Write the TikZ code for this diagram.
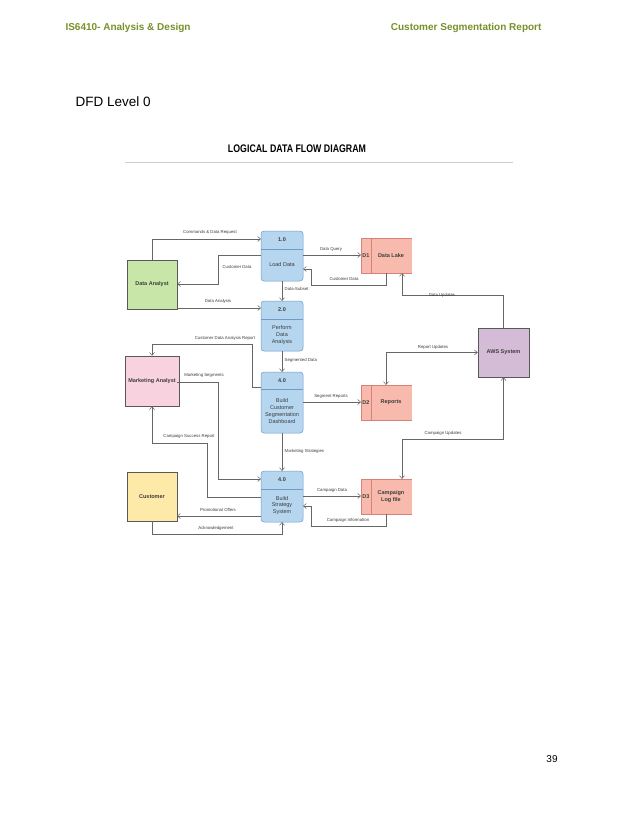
\documentclass[tikz,border=0pt]{standalone}
\usepackage{fontspec}
\setmainfont{Liberation Sans}
\usetikzlibrary{arrows.meta}
\definecolor{hdr}{RGB}{120,145,40}
\definecolor{pfill}{RGB}{182,214,240}
\definecolor{pline}{RGB}{110,155,200}
\definecolor{dfill}{RGB}{248,186,172}
\definecolor{dline}{RGB}{215,130,120}
\definecolor{ltxt}{RGB}{60,60,60}
\begin{document}
\begin{tikzpicture}[x=1pt,y=-1pt,
  lbl/.style={font=\fontsize{4.3}{5}\selectfont, text=ltxt, inner sep=0.5pt},
  flow/.style={draw=gray!80!black, line width=0.5pt, -{Straight Barb[length=3pt,width=5pt]}},
  bflow/.style={draw=gray!80!black, line width=0.5pt, {Straight Barb[length=3pt,width=5pt]}-{Straight Barb[length=3pt,width=5pt]}},
  ent/.style={draw=gray!70!black, line width=0.5pt, font=\fontsize{5.5}{6.5}\selectfont\bfseries, text=ltxt},
  ptext/.style={font=\fontsize{5.5}{6.8}\selectfont, text=ltxt, align=center}]
\useasboundingbox (0,0) rectangle (638,826);
\fill[white] (0,0) rectangle (638,826);
% header
\node[anchor=west, text=hdr, font=\fontsize{10}{12}\selectfont\bfseries] (h1) at (62,28) {IS6410- Analysis \& Design};
\node[anchor=east, text=hdr, font=\fontsize{10}{12}\selectfont\bfseries] (h2) at (545,28) {Customer Segmentation Report};
\node[anchor=west, font=\fontsize{13.5}{16}\selectfont] (dfd) at (72,102) {DFD Level 0};
\node[font=\fontsize{11}{13}\selectfont\bfseries, xscale=0.8] (title) at (297,149) {LOGICAL DATA FLOW DIAGRAM};
\draw[gray!40, line width=0.5pt] (125,162) -- (513,162);
\node[font=\fontsize{10}{12}\selectfont] (pg) at (552,759) {39};

% entities
\node[ent, fill={rgb,255:red,200;green,230;blue,168}, minimum width=50pt, minimum height=49pt] (da) at (152,284.5) {Data Analyst};
\node[ent, fill={rgb,255:red,249;green,210;blue,224}, minimum width=50pt, minimum height=50pt] (ma) at (152,381) {Marketing Analyst};
\node[ent, fill={rgb,255:red,253;green,234;blue,168}, minimum width=50pt, minimum height=49pt] (cu) at (152,496.5) {Customer};
\node[ent, fill={rgb,255:red,212;green,188;blue,214}, minimum width=51pt, minimum height=49pt] (aws) at (503.5,352.5) {AWS System};

% processes
\newcommand{\proc}[6]{% name, top, bottom, divider, number, text
  \draw[draw=pline, fill=pfill, rounded corners=3pt, line width=0.5pt] (261,#2) rectangle (303,#3);
  \draw[pline, line width=0.5pt] (261,#4) -- (303,#4);
  \node[ptext, font=\fontsize{5.5}{6.5}\selectfont\bfseries] at (282,{(#2+#4)/2}) {#5};
  \node[ptext] at (282,{(#4+#3)/2}) {#6};
  \coordinate (#1) at (282,{(#2+#3)/2});
}
\proc{p1}{231}{281}{249}{1.0}{Load Data}
\proc{p2}{301}{351}{319}{2.0}{Perform\\Data\\Analysis}
\proc{p3}{372}{433}{389}{4.0}{Build\\Customer\\Segmentation\\Dashboard}
\proc{p4}{471}{522}{489}{4.0}{Build\\Strategy\\System}

% data stores
\newcommand{\dstore}[5]{% name, top, bottom, id, text
  \draw[draw=dline, fill=dfill, line width=0.5pt] (412,#2) -- (361,#2) -- (361,#3) -- (412,#3);
  \draw[dline, line width=0.5pt] (371,#2) -- (371,#3);
  \node[ptext, font=\fontsize{5.5}{6.5}\selectfont\bfseries] at (366,{(#2+#3)/2}) {#4};
  \node[ptext, font=\fontsize{5.5}{6.5}\selectfont\bfseries] at (391,{(#2+#3)/2}) {#5};
  \coordinate (#1) at (386,{(#2+#3)/2});
}
\dstore{d1}{238}{273}{D1}{Data Lake}
\dstore{d2}{385}{420}{D2}{Reports}
\dstore{d3}{479}{514}{D3}{Campaign\\Log file}

% flows
\draw[flow] (da.north) |- (261,239);
\node[lbl] at (210,232) {Commands \& Data Request};
\draw[flow] (261,255) -| (218,284) -- (da.east |- 0,284);
\node[lbl] at (237,267) {Customer Data};
\draw[flow] (303,255) -- (361,255);
\node[lbl] at (331,249) {Data Query};
\draw[flow] (386,273) |- (311,285) |- (303,269);
\node[lbl] at (344,279) {Customer Data};
\draw[flow] (282,281) -- (282,301);
\node[lbl, anchor=west] at (284,289) {Data-Subset};
\draw[flow] (177,308) -- (261,308);
\node[lbl] at (218,301) {Data Analysis};
\draw[flow] (aws.north) |- (402,295) -- (402,273);
\node[lbl] at (442,295) {Data Updates};
\draw[flow] (261,387) -| (252,344) -| (ma.north);
\node[lbl] at (225,338) {Customer Data Analysis Report};
\draw[flow] (282,351) -- (282,372);
\node[lbl, anchor=west] at (284,360) {Segmented Data};
\draw[bflow] (aws.west) -| (386,385);
\node[lbl] at (433,347) {Report Updates};
\draw[flow] (177,382) -| (218,479) -- (261,479);
\node[lbl] at (204,375) {Marketing Segments};
\draw[flow] (303,402) -- (361,402);
\node[lbl] at (331,396) {Segment Reports};
\draw[flow] (261,497) -| (207,443) -| (ma.south);
\node[lbl] at (189,436) {Campaign Success Report};
\draw[bflow] (aws.south) |- (402,439) -- (402,479);
\node[lbl] at (443,433) {Campaign Updates};
\draw[flow] (282,433) -- (282,471);
\node[lbl, anchor=west] at (284,451) {Marketing Strategies};
\draw[flow] (303,496) -- (361,496);
\node[lbl] at (332,490) {Campaign Data};
\draw[flow] (386,514) |- (311,526) |- (303,506);
\node[lbl] at (348,520) {Campaign Information};
\draw[flow] (261,516) -- (177,516);
\node[lbl] at (218,510) {Promotional Offers};
\draw[flow] (cu.south) |- (282,534) -- (282,522);
\node[lbl] at (216,528) {Acknowledgement};
\end{tikzpicture}
\end{document}
